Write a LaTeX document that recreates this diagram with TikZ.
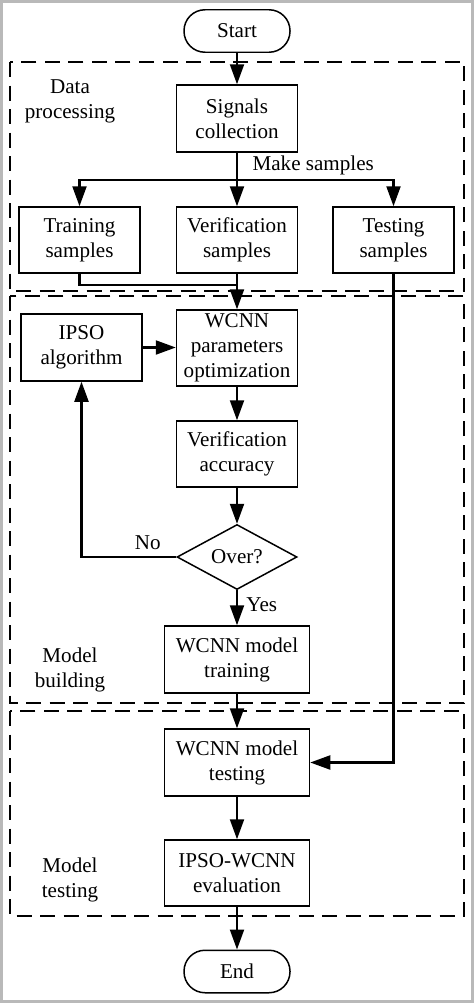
\documentclass[tikz,border=0pt]{standalone}
\usepackage{fontspec}
\setmainfont{Liberation Serif}
\usetikzlibrary{arrows.meta,shapes.geometric}

\begin{document}
\begin{tikzpicture}[line width=0.85pt,>={Triangle[length=4mm,width=2.8mm]},
  font=\fontsize{12}{14.2}\selectfont,
  box/.style={draw,rectangle,align=center,inner sep=0pt,minimum width=2.42cm,minimum height=1.34cm},
  term/.style={draw,rounded corners=0.42cm,inner sep=0pt,minimum width=2.12cm,minimum height=0.85cm},
  dia/.style={draw,diamond,aspect=1.85,inner sep=0pt,minimum width=2.4cm,minimum height=1.3cm},
  grp/.style={dashed,dash pattern=on 0.3cm off 0.17cm,line width=1.5pt},
  flow/.style={->,line width=1.2pt}]
% frame and canvas
\useasboundingbox (0,0) rectangle (9.48,-20.06);
\draw[gray!55,line width=1.6pt] (0.03,-0.03) rectangle (9.45,-20.03);
% dashed stage boxes
\draw[grp] (0.2,-1.24) rectangle (9.28,-5.82);
\draw[grp] (0.2,-5.92) rectangle (9.28,-14.06);
\draw[grp] (0.2,-14.22) rectangle (9.28,-18.32);
\node[align=center] (lbldata) at (1.4,-2.02) {Data\\processing};
\node[align=center] (lblbuild) at (1.4,-13.4) {Model\\building};
\node[align=center] (lbltest) at (1.4,-17.6) {Model\\testing};
% nodes
\node[term] (start) at (4.74,-0.62) {Start};
\node[box] (sig) at (4.74,-2.37) {Signals\\collection};
\node[box,minimum height=1.32cm] (train) at (1.59,-4.80) {Training\\samples};
\node[box,minimum height=1.32cm] (verif) at (4.74,-4.80) {Verification\\samples};
\node[box,minimum height=1.32cm] (test) at (7.87,-4.80) {Testing\\samples};
\node[box] (ipso) at (1.63,-6.95) {IPSO\\algorithm};
\node[box,minimum height=1.52cm] (opt) at (4.74,-6.96) {WCNN\\parameters\\optimization};
\node[box,minimum height=1.32cm] (acc) at (4.74,-9.08) {Verification\\accuracy};
\node[dia] (over) at (4.74,-11.14) {Over?};
\node[box,minimum width=2.9cm] (mtrain) at (4.74,-13.19) {WCNN model\\training};
\node[box,minimum width=2.9cm] (mtest) at (4.74,-15.25) {WCNN model\\testing};
\node[box,minimum width=2.9cm,minimum height=1.32cm] (eval) at (4.74,-17.46) {IPSO-WCNN\\evaluation};
\node[term] (end) at (4.74,-19.43) {End};
% helper points
\coordinate (split) at (4.74,-3.60);
\coordinate (merge) at (4.74,-5.70);
% connectors
\draw[flow] (start) -- (sig);
\draw[line width=1.2pt] (sig.south) -- (split);
\node[anchor=west] (lblmake) at (4.92,-3.30) {Make samples};
\draw[flow] (split) -| (train.north);
\draw[flow] (split) -- (verif.north);
\draw[flow] (split) -| (test.north);
\draw[line width=1.2pt] (train.south) |- (merge);
\draw[flow] (verif.south) -- (opt.north);
\draw[flow] (test.south) |- (mtest.east);
\draw[flow] (ipso.east) -- (opt.west |- ipso.east);
\draw[flow] (opt) -- (acc);
\draw[flow] (acc) -- (over);
\draw[flow] (over.west) -| (ipso.south) node[pos=0.15,above] (lblno) {No};
\draw[flow] (over.south) -- (mtrain.north) node[pos=0.4,right,xshift=0.05cm] (lblyes) {Yes};
\draw[flow] (mtrain) -- (mtest);
\draw[flow] (mtest) -- (eval);
\draw[flow] (eval) -- (end);
\end{tikzpicture}
\end{document}
